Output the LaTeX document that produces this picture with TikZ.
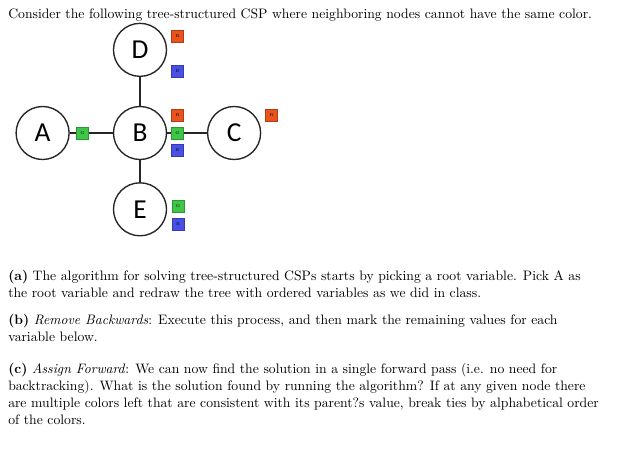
\documentclass[tikz,border=0pt]{standalone}
\usepackage{fontspec}
\newfontfamily\varfont{Carlito}
\usetikzlibrary{positioning}

\definecolor{valred}{RGB}{234,82,30}
\definecolor{valgreen}{RGB}{62,198,72}
\definecolor{valblue}{RGB}{72,80,230}

\begin{document}
\begin{tikzpicture}[
        x=0.73pt, y=-0.73pt,
        cspvar/.style={
          circle,
          draw=black!85,
          line width=1pt,
          minimum size=38.7pt,
          inner sep=0pt,
          font=\varfont\fontsize{20}{20}\selectfont
        },
        domval/.style={
          rectangle,
          draw=#1!75!black,
          fill=#1,
          minimum size=8.8pt,
          inner sep=0pt,
          font=\fontsize{3}{3}\selectfont
        },
        link/.style={draw=black!85, line width=0.9pt},
        question/.style={
          anchor=base west,
          align=left,
          inner sep=0pt,
          font=\fontsize{10}{12.4}\selectfont
        }]
      \useasboundingbox (0,0) rectangle (619,450);
      \node[question] (intro) at (8,18.3) {Consider the following tree-structured CSP where neighboring nodes cannot have the same color.};
      % the tree
      \node[cspvar] (B) at (140,133) {B};
      \node[cspvar] (A) [left=31.4pt of B] {A};
      \node[cspvar] (C) [right=29pt of B] {C};
      \node[cspvar] (D) [above=21pt of B] {D};
      \node[cspvar] (E) [below=16pt of B] {E};
      \draw[link] (A) -- (B);
      \draw[link] (B) -- (C);
      \draw[link] (D) -- (B);
      \draw[link] (B) -- (E);
      % remaining values
      \node[domval=valred] (dR) at (177.5,36) {R};
      \node[domval=valblue] (dB) at (177.5,71) {B};
      \node[domval=valgreen] (aG) at (82.5,133) {G};
      \node[domval=valred] (bR) at (177.5,115) {R};
      \node[domval=valgreen] (bG) at (177.5,133) {G};
      \node[domval=valblue] (bB) at (177.5,150) {B};
      \node[domval=valred] (cR) at (271.5,115) {R};
      \node[domval=valgreen] (eG) at (178,206) {G};
      \node[domval=valblue] (eB) at (178,224) {B};
      % questions (base = last line)
      \node[question] (parta) at (8,297.7) {\textbf{(a)} The algorithm for solving tree-structured CSPs starts by picking a root variable. Pick A as\\
        the root variable and redraw the tree with ordered variables as we did in class.};
      \node[question] (partb) at (8,341.7) {\textbf{(b)} \emph{Remove Backwards}: Execute this process, and then mark the remaining values for each\\
        variable below.};
      \node[question] (partc) at (8,424.3) {\textbf{(c)} \emph{Assign Forward}: We can now find the solution in a single forward pass (i.e. no need for\\
        backtracking). What is the solution found by running the algorithm? If at any given node there\\
        are multiple colors left that are consistent with its parent?s value, break ties by alphabetical order\\
        of the colors.};
\end{tikzpicture}
\end{document}
